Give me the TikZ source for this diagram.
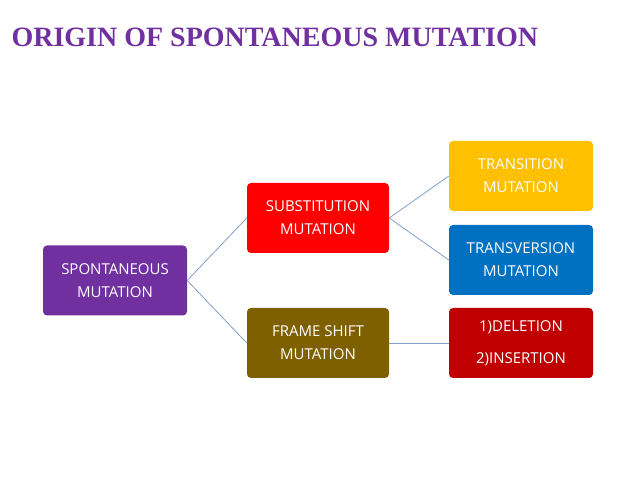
\documentclass[tikz,border=0pt]{standalone}
\usepackage{fontspec}
\setmainfont{Liberation Serif}
\newfontfamily\boxfont{Open Sans}
\definecolor{cpur}{RGB}{112,48,160}
\definecolor{cred}{RGB}{255,0,0}
\definecolor{cbrn}{RGB}{127,96,0}
\definecolor{cgold}{RGB}{255,192,0}
\definecolor{cblue}{RGB}{0,112,192}
\definecolor{cdred}{RGB}{192,0,0}
\definecolor{ctitle}{RGB}{112,48,160}
\definecolor{cline}{RGB}{130,160,200}
\begin{document}
\begin{tikzpicture}[x=1pt,y=-1pt,
  bx/.style={draw=none,fill=#1,rounded corners=4pt,minimum width=144pt,minimum height=70pt,text=white,align=center,font=\boxfont\fontsize{15}{23}\selectfont,inner sep=0pt},
  ln/.style={draw=cline,line width=0.8pt}]
\useasboundingbox (0,0) rectangle (638,478);
\node[font=\bfseries\fontsize{28}{32}\selectfont,text=ctitle,anchor=west] (t) at (8,37) {ORIGIN OF SPONTANEOUS MUTATION};
\node[bx=cpur] (s) at (115,280.5) {SPONTANEOUS\\MUTATION};
\node[bx=cred,minimum width=142pt] (sub) at (318,218) {SUBSTITUTION\\MUTATION};
\node[bx=cbrn,minimum width=142pt] (fs) at (318,343) {FRAME SHIFT\\MUTATION};
\node[bx=cgold] (ti) at (521,176) {TRANSITION\\MUTATION};
\node[bx=cblue] (tv) at (521,260) {TRANSVERSION\\MUTATION};
\node[bx=cdred,font=\boxfont\fontsize{15}{32}\selectfont] (d) at (521,343) {1)DELETION\\2)INSERTION};
\draw[ln] (s.east) -- (sub.west);
\draw[ln] (s.east) -- (fs.west);
\draw[ln] (sub.east) -- (ti.west);
\draw[ln] (sub.east) -- (tv.west);
\draw[ln] (fs.east) -- (d.west);
\end{tikzpicture}
\end{document}
